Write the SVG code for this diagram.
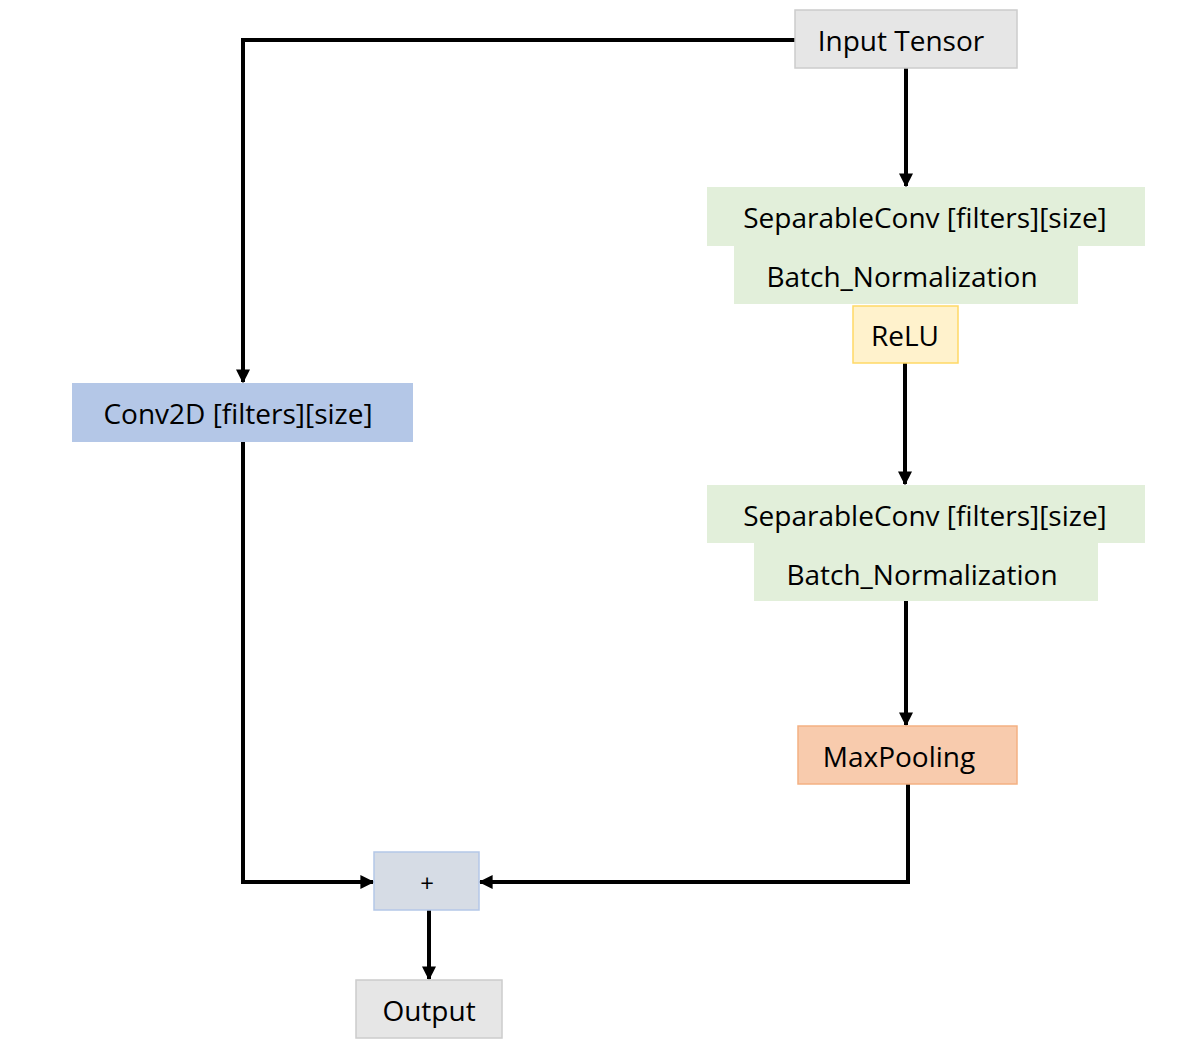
<svg xmlns="http://www.w3.org/2000/svg" width="1198" height="1052" viewBox="0 0 1198 1052">
<defs>
<marker id="ah" viewBox="0 0 10 10" refX="9" refY="5" markerWidth="3.5" markerHeight="3.5" orient="auto" markerUnits="strokeWidth"><path d="M0,0 L10,5 L0,10 z" fill="#000"/></marker>
<style>
text{font-family:"Open Sans","Liberation Sans",sans-serif;font-size:28px;fill:#000;text-anchor:middle;dominant-baseline:central}
.c{fill:none;stroke:#000;stroke-width:4;marker-end:url(#ah)}
.g{fill:#e2efda}
</style>
</defs>
<rect width="1198" height="1052" fill="#fff"/>
<g id="connectors">
<path class="c" d="M795,40 H243 V382"/>
<path class="c" d="M906,68 V186"/>
<path class="c" d="M905,363 V484"/>
<path class="c" d="M906,601 V725"/>
<path class="c" d="M908,784 V882 H480"/>
<path class="c" d="M243,442 V882 H373"/>
<path class="c" d="M429,910 V979"/>
</g>
<g id="input"><rect x="795" y="10" width="222" height="58" fill="#e6e6e6" stroke="#ccc" stroke-width="1.5"/><text x="901" y="40">Input Tensor</text></g>
<g id="sep1"><rect class="g" x="707" y="187" width="438" height="59"/><text x="925" y="217">SeparableConv [filters][size]</text></g>
<g id="bn1"><rect class="g" x="734" y="246" width="344" height="58"/><text x="902" y="276">Batch_Normalization</text></g>
<g id="relu"><rect x="853" y="306" width="105" height="57" fill="#fff2cc" stroke="#ffd966" stroke-width="1.5"/><text x="905" y="335">ReLU</text></g>
<g id="sep2"><rect class="g" x="707" y="485" width="438" height="58"/><text x="925" y="515">SeparableConv [filters][size]</text></g>
<g id="bn2"><rect class="g" x="754" y="543" width="344" height="58"/><text x="922" y="574">Batch_Normalization</text></g>
<g id="maxpool"><rect x="798" y="726" width="219" height="58" fill="#f8cbad" stroke="#f4b183" stroke-width="1.5"/><text x="899" y="756">MaxPooling</text></g>
<g id="conv2d"><rect x="72" y="383" width="341" height="59" fill="#b4c7e7"/><text x="238" y="413">Conv2D [filters][size]</text></g>
<g id="plus"><rect x="374" y="852" width="105" height="58" fill="#d6dce5" stroke="#b4c7e7" stroke-width="1.5"/><text x="427" y="882" style="font-size:24px">+</text></g>
<g id="output"><rect x="356" y="980" width="146" height="58" fill="#e6e6e6" stroke="#ccc" stroke-width="1.5"/><text x="429" y="1010">Output</text></g>
</svg>
